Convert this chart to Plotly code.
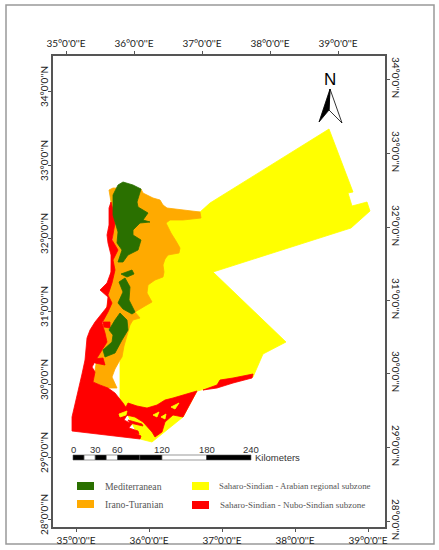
import plotly.graph_objects as go

# Projected map grid units
lon_labels = ["35°0'0''E", "36°0'0''E", "37°0'0''E", "38°0'0''E", "39°0'0''E"]
lat_labels = ["34°0'0''N", "33°0'0''N", "32°0'0''N", "31°0'0''N", "30°0'0''N", "29°0'0''N", "28°0'0''N"]
lon_ticks_bottom = [23, 96, 169, 242, 315]
lon_ticks_top = [13, 81, 149, 217, 285]
lat_ticks_left = [436, 362, 289, 216, 143, 70, 8]
lat_ticks_right = [448, 374, 300, 227, 154, 80, 6]

arabian = [(276,398),(300,335),(295,334),(299,321),(314,325),(317,316),(298,299),(160,255),(233,185),(210,173),
           (200,150),(144,136),(130,110),(99,85),(87,88),(67,127),(67,200),(107,312),(147,315),(157,324)]
irano = [(60,339),(88,338),(90,334),(96,331),(100,329),(107,327),(110,322),(114,319),(130,317),(147,315),(148,309),
         (130,307),(117,307),(113,304),(116,298),(118,294),(123,286),(127,279),(126,274),(115,272),(112,268),(110,262),
         (111,255),(110,250),(102,247),(95,242),(94,234),(99,225),(92,221),(82,215),(87,209),(80,207),(77,202),(74,192),
         (71,181),(69,170),(67,167),(62,158),(59,150),(64,139),(55,139),(40,145),(44,169),(50,204),(55,225),(58,255),
         (60,290),(58,325),(56,337)]
nubo_main = [(58,325),(56,319),(56,302),(54,292),(55,284),(58,272),(58,255),(54,244),(47,237),(55,230),(54,220),
             (48,212),(42,205),(37,197),(34,189),(33,178),(32,167),(29,153),(26,140),(22,124),(19,110),(19,96),
             (53,92),(87,88),(88,91),(75,98),(79,103),(71,107),(76,115),(70,124),(62,134),(55,139),(47,142),(40,145),
             (42,155),(39,160),(44,169),(54,185),(52,194),(49,204),(55,215),(59,224),(55,232),(59,244),(62,257),(60,267),
             (65,277),(59,287),(62,304),(60,317)]
nubo_south = [(73,120),(75,124),(84,121),(94,119),(104,122),(112,127),(120,129),(128,131),(137,134),(144,136),
              (137,123),(130,110),(120,112),(112,105),(109,95),(102,90),(99,95),(90,105),(82,110),(73,112)]
nubo_band = [(150,137),(164,142),(167,147),(180,149),(200,153),(199,149),(180,144),(164,139)]
nubo_patch_a = [(40,168),(50,169),(52,162),(42,164)]
nubo_patch_b = [(50,205),(57,205),(57,199),(51,200)]
nubo_streak_a = [(75,107),(89,103),(90,101),(77,104)]
nubo_streak_b = [(73,100),(85,96),(86,93),(75,96)]
arabian_hole_a = [(100,112),(106,115),(104,110)]
arabian_hole_b = [(118,120),(126,124),(122,118)]
arabian_hole_c = [(66,113),(74,116),(73,112),(67,110)]
arabian_hole_d = [(108,110),(113,113),(112,108)]
med_north = [(70,345),(80,342),(88,338),(84,325),(85,320),(90,317),(95,314),(90,307),(97,305),(87,304),(80,297),(80,292),
             (88,287),(85,277),(75,272),(70,265),(65,265),(69,277),(64,284),(65,295),(62,305),(60,312),(60,332),(65,342)]
med_b = [(68,253),(79,257),(81,253),(74,250)]
med_c = [(66,245),(72,249),(77,240),(76,227),(82,215),(79,213),(70,218),(65,224),(70,235)]
med_d = [(62,207),(67,214),(74,207),(75,197),(69,187),(62,174),(52,170),(50,177),(59,185),(60,192),(56,197)]

arrow_dark = [(277,438),(266,405),(276,417)]
arrow_light = [(277,438),(276,417),(289,404)]

scale_km = [0, 15, 30, 45, 60, 90, 120, 180, 240]
scale_fill = [1, 0, 1, 0, 1, 1, 0, 1]
scale_labels = [0, 30, 60, 120, 180, 240]
KM_TO_GRID = 178 / 240

GREEN, ORANGE, RED, YELLOW = "#2a7000", "#ffaa00", "#ff0000", "#ffff00"
legend_items = [("Mediterranean", GREEN, 24, 41, 50, 9.7), ("Irano-Turanian", ORANGE, 24, 23, 50, 9.7),
                ("Saharo-Sindian - Arabian regional subzone", YELLOW, 139, 41, 164, 8.8),
                ("Saharo-Sindian - Nubo-Sindian subzone", RED, 139, 22, 165, 9)]

fig = go.Figure()

def poly(pts, color, line=None):
    xs, ys = zip(*pts)
    fig.add_trace(go.Scatter(x=list(xs) + [xs[0]], y=list(ys) + [ys[0]], mode="lines", fill="toself",
                             fillcolor=color, line=dict(color=line or color, width=0.8),
                             hoverinfo="skip", showlegend=False))

poly(arabian, YELLOW)
poly(irano, ORANGE)
for p in (nubo_main, nubo_south, nubo_band, nubo_patch_a, nubo_patch_b):
    poly(p, RED)
for p in (arabian_hole_a, arabian_hole_b, arabian_hole_c, arabian_hole_d):
    poly(p, YELLOW)
for p in (nubo_streak_a, nubo_streak_b):
    poly(p, RED)
for p in (med_north, med_b, med_c, med_d):
    poly(p, GREEN)
poly(arrow_light, "white", "black")
poly(arrow_dark, "black", "black")

# anchors the top and right axes
fig.add_trace(go.Scatter(x=[lon_ticks_top[0]], y=[lat_ticks_right[0]], xaxis="x2", yaxis="y2", mode="markers",
                         marker=dict(opacity=0), hoverinfo="skip", showlegend=False))

shapes = []
SCALE_X0, SCALE_Y0, SCALE_Y1 = 20, 67, 72
for a, b, f in zip(scale_km[:-1], scale_km[1:], scale_fill):
    shapes.append(dict(type="rect", x0=SCALE_X0 + a * KM_TO_GRID, x1=SCALE_X0 + b * KM_TO_GRID, y0=SCALE_Y0, y1=SCALE_Y1,
                       xref="x", yref="y", fillcolor="black" if f else "white", line=dict(color="#555", width=0.6)))
for name, color, x0, yc, tx, fs in legend_items:
    shapes.append(dict(type="rect", x0=x0, x1=x0 + 17, y0=yc - 4, y1=yc + 4, xref="x", yref="y",
                       fillcolor=color, line=dict(width=0)))
# outer page border lies outside the map frame
shapes.append(dict(type="rect", x0=-47 / 332, x1=381 / 332, y0=-17 / 471, y1=522 / 471, xref="paper", yref="paper",
                   line=dict(color="#999999", width=1.5), layer="below"))

ann = []
for km in scale_labels:
    ann.append(dict(x=SCALE_X0 + km * KM_TO_GRID, y=78, text=str(km), showarrow=False, xref="x", yref="y",
                    font=dict(family="Liberation Sans", size=9.5, color="#333")))
ann.append(dict(x=200, y=70, text="Kilometers", xanchor="left", showarrow=False, xref="x", yref="y",
                font=dict(family="Liberation Sans", size=9.5, color="#333")))
for name, color, x0, yc, tx, fs in legend_items:
    ann.append(dict(x=tx, y=yc, text=name, xanchor="left", showarrow=False, xref="x", yref="y",
                    font=dict(family="Liberation Serif", size=fs, color="#555")))
ann.append(dict(x=277, y=448, text="N", showarrow=False, xref="x", yref="y",
                font=dict(family="Liberation Sans", size=17, color="black")))

tickfont = dict(family="Lato", size=10, color="#222")
for lab, tick in zip(lat_labels, lat_ticks_left):
    ann.append(dict(x=-9 / 332, y=(tick + 4) / 471, text=lab, textangle=-90, showarrow=False,
                    xref="paper", yref="paper", xanchor="center", yanchor="middle", font=tickfont))
for lab, tick in zip(lat_labels, lat_ticks_right):
    ann.append(dict(x=343 / 332, y=(tick + 2) / 471, text=lab, textangle=90, showarrow=False,
                    xref="paper", yref="paper", xanchor="center", yanchor="middle", font=tickfont))

ax = dict(showgrid=False, zeroline=False, showline=True, linecolor="#555", linewidth=1.5, ticks="outside",
          ticklen=3, tickcolor="#555", tickfont=tickfont, tickmode="array", automargin=False)
fig.update_layout(
    width=439, height=550, margin=dict(l=53, r=54, t=56, b=23), paper_bgcolor="white", plot_bgcolor="white",
    showlegend=False, shapes=shapes, annotations=ann,
    xaxis=dict(ax, range=[0, 332], tickvals=lon_ticks_bottom, ticktext=lon_labels, side="bottom", tickangle=0),
    xaxis2=dict(ax, range=[0, 332], tickvals=lon_ticks_top, ticktext=lon_labels, side="top", overlaying="x", anchor="y", tickangle=0),
    yaxis=dict(ax, range=[0, 471], tickvals=lat_ticks_left, showticklabels=False, side="left"),
    yaxis2=dict(ax, range=[0, 471], tickvals=lat_ticks_right, showticklabels=False, side="right", overlaying="y", anchor="x"),
)
fig.write_html("out.html", config=dict(displayModeBar=False),
               post_script="document.body.style.margin='0';document.documentElement.style.overflow='hidden';")
